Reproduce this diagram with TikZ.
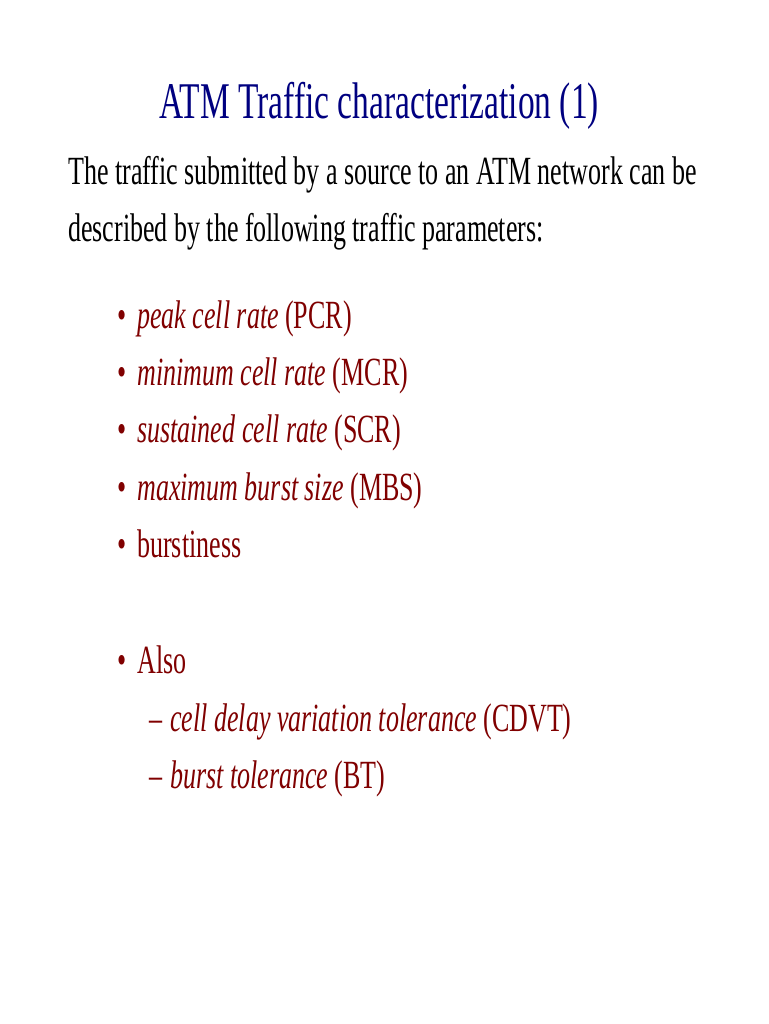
\documentclass[tikz,border=0pt]{standalone}
\usepackage{fontspec}
\setmainfont[FakeStretch=0.65]{Liberation Serif}
\definecolor{navy}{RGB}{0,0,128}
\definecolor{dred}{RGB}{128,0,0}
\begin{document}
\begin{tikzpicture}[x=1pt,y=1pt,
  txt/.style={anchor=base west,inner sep=0pt,font=\fontsize{40}{44}\selectfont},
  it/.style={txt,text=dred}]
\useasboundingbox[fill=white] (0,0) rectangle (768,1024);
\node[anchor=base,inner sep=0pt,text=navy,font=\fontsize{51.5}{55}\selectfont] (title) at (379,1024-119) {ATM Traffic characterization (1)};
\node[txt] (l1) at (68,1024-185) {The traffic submitted by a source to an ATM network can be};
\node[txt] (l2) at (68,1024-242) {described by the following traffic parameters:};
\node[it] (b1) at (117,1024-329) {\textbullet\hspace{11pt}\textit{peak cell rate} (PCR)};
\node[it] (b2) at (117,1024-386) {\textbullet\hspace{11pt}\textit{minimum cell rate} (MCR)};
\node[it] (b3) at (117,1024-443) {\textbullet\hspace{11pt}\textit{sustained cell rate} (SCR)};
\node[it] (b4) at (117,1024-501) {\textbullet\hspace{11pt}\textit{maximum burst size} (MBS)};
\node[it] (b5) at (117,1024-558) {\textbullet\hspace{11pt}burstiness};
\node[it] (b6) at (117,1024-674) {\textbullet\hspace{11pt}Also};
\node[it] (s1) at (149,1024-732) {–\hspace{8pt}\textit{cell delay variation tolerance} (CDVT)};
\node[it] (s2) at (149,1024-789) {–\hspace{8pt}\textit{burst tolerance} (BT)};
\end{tikzpicture}
\end{document}
